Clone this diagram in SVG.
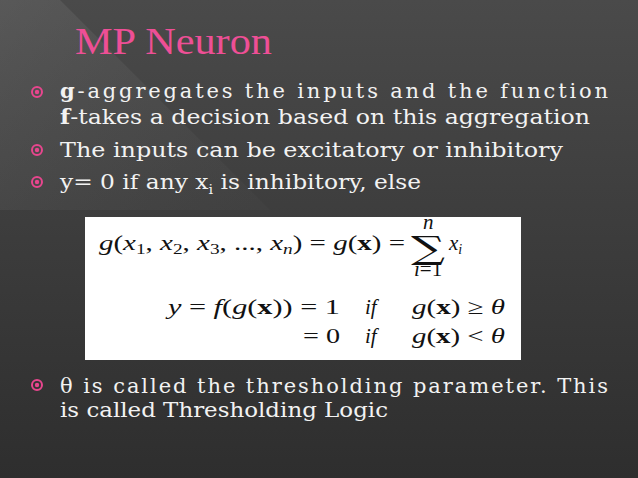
<svg xmlns="http://www.w3.org/2000/svg" width="638" height="478" viewBox="0 0 638 478">
<defs>
<linearGradient id="bg" x1="0" y1="0" x2="0" y2="1"><stop offset="0" stop-color="#4a4a4a"/><stop offset="1" stop-color="#2e2e2e"/></linearGradient>
<linearGradient id="band" x1="0" y1="0" x2="1" y2="1"><stop offset="0" stop-color="#7a7a7a" stop-opacity="0.5"/><stop offset="1" stop-color="#555" stop-opacity="0.2"/></linearGradient>
<g id="bul"><circle r="5" fill="none" stroke="#e8468e" stroke-width="2"/><circle r="2.2" fill="#e8468e"/></g>
</defs>
<style>
.t{font-family:"DejaVu Serif","Liberation Serif",serif;font-size:21px;fill:#f2f2f2}
.m{font-family:"Liberation Serif","DejaVu Serif",serif;font-size:21px;fill:#111}
.mi{font-style:italic}
</style>
<rect width="638" height="478" fill="url(#bg)"/>
<polygon points="0,0 60,0 270,210 0,210" fill="url(#band)" opacity="0.6"/>
<text x="75" y="54" font-family="Liberation Serif,DejaVu Serif,serif" font-size="38" fill="#ee4f96" textLength="197" lengthAdjust="spacingAndGlyphs">MP Neuron</text>
<g id="bullets">
<use href="#bul" x="37" y="92"/><use href="#bul" x="37" y="150"/><use href="#bul" x="37" y="182"/><use href="#bul" x="37" y="385"/>
</g>
<g id="text">
<text class="t" x="60" y="98" textLength="548" lengthAdjust="spacing"><tspan font-weight="bold">g</tspan>-aggregates the inputs and the function</text>
<text class="t" x="60" y="124" textLength="530" lengthAdjust="spacingAndGlyphs"><tspan font-weight="bold">f</tspan>-takes a decision based on this aggregation</text>
<text class="t" x="60" y="157" textLength="503" lengthAdjust="spacingAndGlyphs">The inputs can be excitatory or inhibitory</text>
<text class="t" x="60" y="189" textLength="361" lengthAdjust="spacingAndGlyphs">y= 0 if any x<tspan font-size="13" dy="5">i</tspan><tspan dy="-5"> is inhibitory, else</tspan></text>
<text class="t" x="60" y="393" textLength="548" lengthAdjust="spacing">θ is called the thresholding parameter. This</text>
<text class="t" x="60" y="417" textLength="328" lengthAdjust="spacingAndGlyphs">is called Thresholding Logic</text>
</g>
<g id="formula">
<rect x="85" y="217" width="436" height="143" fill="#fff"/>
<text class="m" x="99" y="250" textLength="306" lengthAdjust="spacingAndGlyphs"><tspan class="mi">g</tspan>(<tspan class="mi">x</tspan><tspan font-size="14" dy="4">1</tspan><tspan dy="-4">, </tspan><tspan class="mi">x</tspan><tspan font-size="14" dy="4">2</tspan><tspan dy="-4">, </tspan><tspan class="mi">x</tspan><tspan font-size="14" dy="4">3</tspan><tspan dy="-4">, ..., </tspan><tspan class="mi">x</tspan><tspan font-size="14" dy="4" class="mi">n</tspan><tspan dy="-4">) = </tspan><tspan class="mi">g</tspan>(<tspan font-weight="bold">x</tspan>) =</text>
<text x="411" y="259" font-family="DejaVu Serif,serif" font-size="32" fill="#111" textLength="34" lengthAdjust="spacingAndGlyphs">∑</text>
<text class="m mi" x="423" y="229" font-size="13">n</text>
<text class="m" x="414" y="276" font-size="13"><tspan class="mi">i</tspan>=1</text>
<text class="m" x="449" y="250"><tspan class="mi">x</tspan><tspan class="mi" font-size="14" dy="4">i</tspan></text>
<text class="m" x="168" y="314" textLength="172" lengthAdjust="spacingAndGlyphs"><tspan class="mi">y</tspan> = <tspan class="mi">f</tspan>(<tspan class="mi">g</tspan>(<tspan font-weight="bold">x</tspan>)) = 1</text>
<text class="m mi" x="365" y="314">if</text>
<text class="m" x="412" y="314" textLength="93" lengthAdjust="spacingAndGlyphs"><tspan class="mi">g</tspan>(<tspan font-weight="bold">x</tspan>) ≥ <tspan class="mi">θ</tspan></text>
<text class="m" x="303" y="343" textLength="37" lengthAdjust="spacingAndGlyphs">= 0</text>
<text class="m mi" x="365" y="343">if</text>
<text class="m" x="412" y="343" textLength="93" lengthAdjust="spacingAndGlyphs"><tspan class="mi">g</tspan>(<tspan font-weight="bold">x</tspan>) &lt; <tspan class="mi">θ</tspan></text>
</g>
</svg>
